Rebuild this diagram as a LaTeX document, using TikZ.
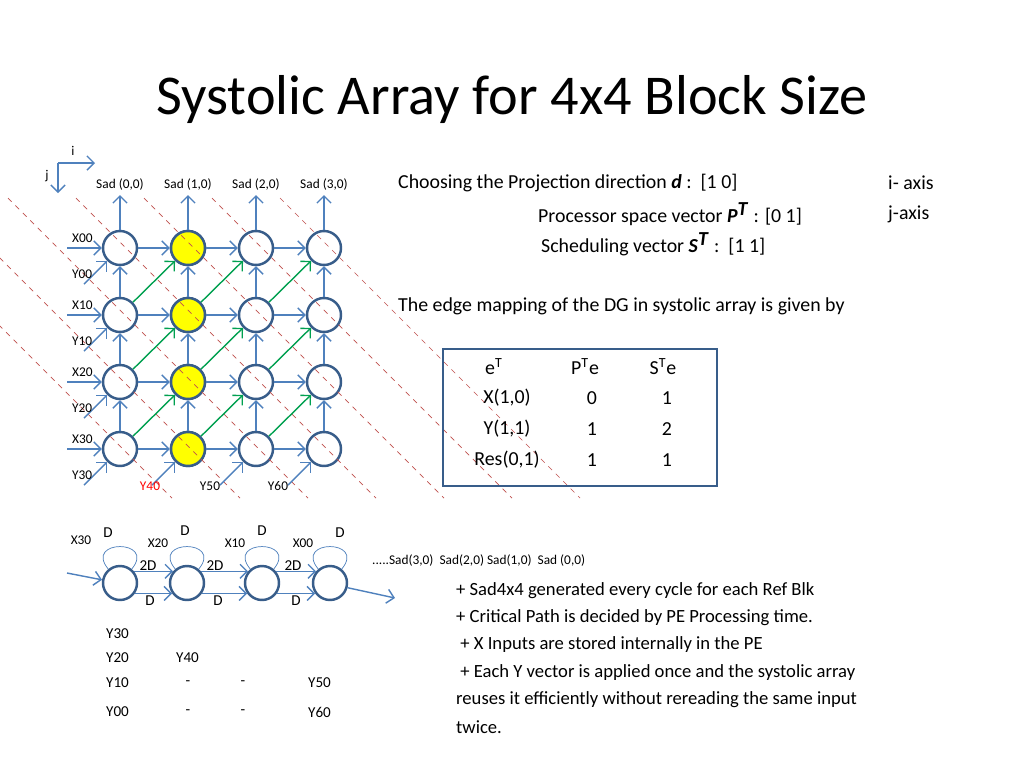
\documentclass[tikz,border=0pt]{standalone}
\usepackage{fontspec}
\setmainfont{Carlito}
\usetikzlibrary{arrows.meta}
\definecolor{ln}{HTML}{4F81BD}
\definecolor{rg}{HTML}{385D8A}
\definecolor{gn}{HTML}{00A050}
\definecolor{rd}{HTML}{C0504D}
\definecolor{yl}{HTML}{FFFF00}
\newcommand{\titlesz}{\fontsize{32}{36}\selectfont}
\newcommand{\bodysz}{\fontsize{11.3}{13}\selectfont}
\newcommand{\labsz}{\fontsize{7.6}{9}\selectfont}
\newcommand{\midsz}{\fontsize{8.6}{10}\selectfont}
\tikzset{pe/.style={circle, draw=rg, line width=1.4pt, minimum size=0.68cm, inner sep=0pt},
  fl/.style={draw=ln, -{Straight Barb[length=4pt]}, thick},
  gf/.style={draw=gn, -{Straight Barb[length=4pt]}, thick}}

\begin{document}
\begin{tikzpicture}[x=0.02cm, y=-0.02cm]
  \useasboundingbox[fill=white] (0,0) rectangle (1024,768);
  \node at (512,100) {\titlesz Systolic Array for 4x4 Block Size};

  % axes
  \coordinate (o) at (58,163);
  \coordinate (ie) at (95,163);
  \coordinate (je) at (58,193);
  \draw[fl] (o) -- (ie);
  \draw[fl] (o) -- (je);
  \node at (73,151) {\labsz i};
  \node at (47,176) {\labsz j};

  % dependence graph
  \foreach \c in {0,...,3}
    \foreach \r in {0,...,3}
      \node[pe] (n\c\r) at (120+68*\c, 248+67*\r) {};
  \foreach \r in {0,...,3} \node[pe, fill=yl] (n1\r) at (188, 248+67*\r) {};

  \foreach \k in {-3,...,3}
    \draw[rd, dashed, thin] (68+68*\k+8, 213-15) -- ++(300,300);

  \foreach \c in {0,...,3} {
    \coordinate (s\c) at (120+68*\c,195);
    \draw[fl] (n\c0) -- (s\c);
    \node at (120+68*\c,185) {\labsz Sad (\c,0)};
  }
  \foreach \c/\d in {0/1,1/2,2/3}
    \foreach \r in {0,...,3}
      \draw[fl] (n\c\r) -- (n\d\r);
  \foreach \c in {0,...,3}
    \foreach \r/\u in {1/0,2/1,3/2}
      \draw[fl] (n\c\r) -- (n\c\u);
  \foreach \c/\d in {0/1,1/2,2/3}
    \foreach \r/\u in {1/0,2/1,3/2}
      \draw[gf] (n\c\r) -- (n\d\u);

  \foreach \r in {0,...,3} {
    \coordinate (xi\r) at (67,248+67*\r);
    \draw[fl] (xi\r) -- (n0\r);
    \coordinate (yi\r) at (84,284+67*\r);
    \draw[fl] (yi\r) -- (n0\r.south west);
    \node[anchor=west] at (66,238+67*\r) {\labsz X\r0};
    \node[anchor=west] at (66,274+67*\r) {\labsz Y\r0};
  }
  \foreach \c in {1,2,3} {
    \coordinate (yb\c) at (84+68*\c,485);
    \draw[fl] (yb\c) -- (n\c3.south west);
  }
  \node[text=red] at (150,486) {\labsz Y40};
  \node at (210,486) {\labsz Y50};
  \node at (278,486) {\labsz Y60};

  % systolic array
  \foreach \i/\x in {0/120,1/187,2/262,3/330}
    \node[pe] (p\i) at (\x,583) {};
  \coordinate (pin) at (67,573);
  \coordinate (pout) at (395,598);
  \draw[fl] (pin) -- (p0.170);
  \draw[fl] (p3.-15) -- (pout);
  \foreach \a/\b in {0/1,1/2,2/3} {
    \draw[fl] (p\a.40) -- (p\b.140);
    \draw[fl] (p\a.-35) -- (p\b.-145);
  }
  \foreach \i in {0,...,3}
    \draw[ln] (p\i.130) .. controls ++(-25,-30) and ++(25,-30) .. (p\i.50);
  \foreach \i/\x/\y in {0/108/533,1/185/531,2/262/531,3/340/533}
    \node at (\x,\y) {\midsz D};
  \foreach \t/\x/\y in {X30/81/540,X20/158/543,X10/235/543,X00/303/543}
    \node at (\x,\y) {\labsz \t};
  \foreach \x in {148,215,293} \node at (\x,566) {\midsz 2D};
  \foreach \x in {150,218,296} \node at (\x,601) {\midsz D};

  \node[anchor=west] at (100,634) {\midsz Y30};
  \node[anchor=west] at (100,658) {\midsz Y20};
  \node[anchor=west] at (170,658) {\midsz Y40};
  \foreach \t/\y in {Y10/683,Y00/712} {
    \node[anchor=west] at (100,\y) {\midsz \t};
    \node at (188,\y) {\midsz -};
    \node at (243,\y) {\midsz -};
  }
  \node[anchor=west] at (302,683) {\midsz Y50};
  \node[anchor=west] at (302,712) {\midsz Y60};

  % right text
  \node[anchor=west] at (392,183) {\bodysz Choosing the Projection direction \textbf{\textit{d}} :\ \ [1 0]};
  \node[anchor=west] at (882,183) {\bodysz i- axis};
  \node[anchor=west] at (532,214) {\bodysz Processor space vector \textbf{\textit{P}}$^{\textbf{\textit{T}}}$ : [0 1]};
  \node[anchor=west] at (882,214) {\bodysz j-axis};
  \node[anchor=west] at (535,244) {\bodysz Scheduling vector \textbf{\textit{S}}$^{\textbf{\textit{T}}}$ :\ \ [1 1]};
  \node[anchor=west] at (392,306) {\bodysz The edge mapping of the DG in systolic array is given by};

  \draw[rg, line width=1.4pt] (443,349) rectangle (717,486);
  \node at (494,367) {\bodysz e$^{\rm T}$};
  \node at (585,367) {\bodysz P$^{\rm T}$e};
  \node at (663,367) {\bodysz S$^{\rm T}$e};
  \foreach \t/\p/\s/\y in {{X(1,0)}/0/1/398, {Y(1,1)}/1/2/429, {Res(0,1)}/1/1/460} {
    \node at (507,\y) {\bodysz \t};
    \node at (592,\y) {\bodysz \p};
    \node at (667,\y) {\bodysz \s};
  }

  \node[anchor=west] at (366,561) {\labsz .....Sad(3,0)\ \ Sad(2,0) Sad(1,0)\ \ Sad (0,0)};
  \foreach \t/\y in {{+ Sad4x4 generated every cycle for each Ref Blk}/591,
      {+ Critical Path is decided by PE Processing time.}/618,
      {\ + X Inputs are stored internally in the PE}/645,
      {\ + Each Y vector is applied once and the systolic array}/673,
      {reuses it efficiently without rereading the same input}/700,
      {twice.}/727}
    \node[anchor=west] at (450,\y) {\fontsize{10.6}{12}\selectfont \t};
\end{tikzpicture}
\end{document}
